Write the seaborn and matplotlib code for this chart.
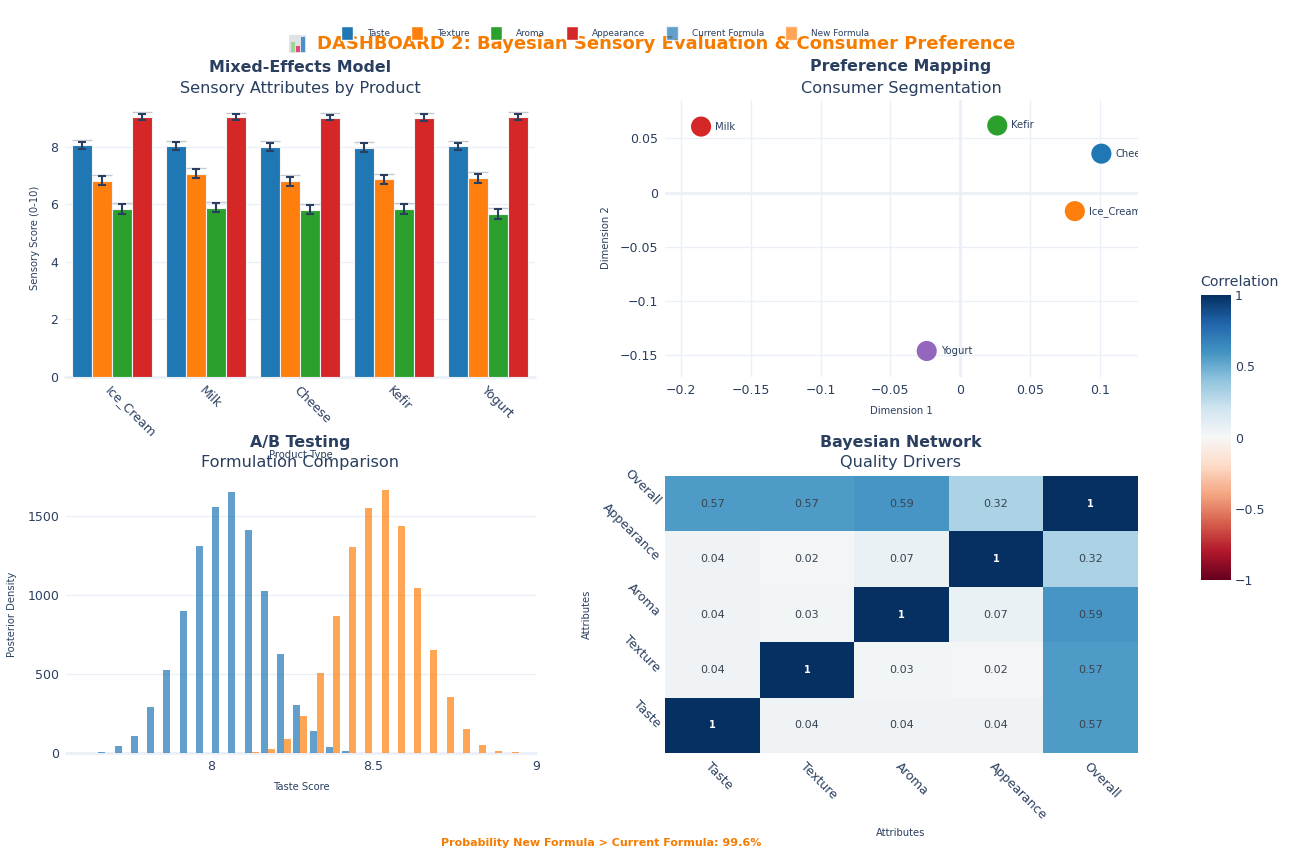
import numpy as np
import pandas as pd
import seaborn as sns
import matplotlib
matplotlib.use('Agg')
import matplotlib.pyplot as plt
from matplotlib.patches import Patch, Rectangle

# sensory scores
products = ['Ice_Cream', 'Milk', 'Cheese', 'Kefir', 'Yogurt']
attributes = ['Taste', 'Texture', 'Aroma', 'Appearance']
taste = [8.06, 8.02, 8.00, 7.97, 8.02]
texture = [6.83, 7.07, 6.80, 6.87, 6.91]
aroma = [5.84, 5.88, 5.82, 5.84, 5.67]
appearance = [9.05, 9.03, 9.02, 9.01, 9.05]
taste_err = [0.12, 0.14, 0.14, 0.15, 0.13]
texture_err = [0.15, 0.15, 0.16, 0.15, 0.15]
aroma_err = [0.16, 0.16, 0.15, 0.16, 0.16]
appearance_err = [0.10, 0.10, 0.10, 0.12, 0.10]

# preference map
segment_names = ['Milk', 'Kefir', 'Cheese', 'Ice_Cream', 'Yogurt']
dim1 = [-0.1855, 0.0265, 0.101, 0.082, -0.024]
dim2 = [0.061, 0.062, 0.036, -0.017, -0.146]

# posterior histogram counts per bin
bin_centers = [7.575, 7.625, 7.675, 7.725, 7.775, 7.825, 7.875, 7.925, 7.975, 8.025,
               8.075, 8.125, 8.175, 8.225, 8.275, 8.325, 8.375, 8.425, 8.475, 8.525,
               8.575, 8.625, 8.675, 8.725, 8.775, 8.825, 8.875, 8.925, 8.975]
current_counts = [1, 2, 5, 44, 105, 293, 523, 901, 1310, 1557,
                  1654, 1414, 1028, 629, 304, 141, 36, 13, 3, 1,
                  0, 0, 0, 0, 0, 0, 0, 0, 0]
new_counts = [0, 0, 0, 0, 0, 0, 0, 0, 0, 1,
              3, 8, 27, 89, 234, 506, 869, 1304, 1553, 1667,
              1437, 1047, 652, 357, 154, 51, 13, 4, 1]

# correlation matrix
corr_labels = ['Taste', 'Texture', 'Aroma', 'Appearance', 'Overall']
corr_taste = [1, 0.04, 0.04, 0.04, 0.57]
corr_texture = [0.04, 1, 0.03, 0.02, 0.57]
corr_aroma = [0.04, 0.03, 1, 0.07, 0.59]
corr_appearance = [0.04, 0.02, 0.07, 1, 0.32]
corr_overall = [0.57, 0.57, 0.59, 0.32, 1]

W, H = 1300, 850
TEXT = '#2a3f5f'
GRID = '#ebf0f8'
ORANGE = '#f57c00'
attr_colors = ['#1f77b4', '#ff7f0e', '#2ca02c', '#d62728']
segment_colors = ['#d62728', '#2ca02c', '#1f77b4', '#ff7f0e', '#9467bd']

sns.set_theme(style='white')
plt.rcParams['font.family'] = ['DejaVu Sans']
plt.rcParams['text.color'] = TEXT
plt.rcParams['xtick.color'] = TEXT
plt.rcParams['ytick.color'] = TEXT

fig = plt.figure(figsize=(W / 100, H / 100), dpi=100)


def px_axes(left, top, right, bottom):
    return fig.add_axes([left / W, 1 - bottom / H, (right - left) / W, (bottom - top) / H])


def px_text(x, y, s, **kw):
    kw.setdefault('ha', 'center')
    kw.setdefault('va', 'center')
    return fig.text(x / W, 1 - y / H, s, **kw)


def style_ax(ax):
    sns.despine(ax=ax, left=True, bottom=True)
    ax.tick_params(length=0, labelsize=9, pad=5)
    ax.set_axisbelow(True)
    ax.set_xlabel('')
    ax.set_ylabel('')


def titles(x, y, bold, sub):
    px_text(x, y, bold, fontsize=11.4, fontweight='bold')
    px_text(x, y + 21, sub, fontsize=11.6)


#%%
# panel 1: bars with error bars
ax1 = px_axes(65, 100, 535, 377)
df_sensory = pd.DataFrame({'product': products * 4,
                           'attribute': np.repeat(attributes, 5),
                           'score': taste + texture + aroma + appearance})
sns.barplot(data=df_sensory, x='product', y='score', hue='attribute', order=products,
            hue_order=attributes, palette=attr_colors, width=0.85, errorbar=None,
            saturation=1, edgecolor='#f4f4f4', linewidth=0.8, legend=False, ax=ax1)
for container, errs in zip(ax1.containers, [taste_err, texture_err, aroma_err, appearance_err]):
    xs = [b.get_x() + b.get_width() / 2 for b in container]
    ys = [b.get_height() for b in container]
    ax1.errorbar(xs, ys, yerr=errs, fmt='none', ecolor=TEXT, elinewidth=1.5,
                 capsize=3, capthick=1.5, zorder=5)
    ax1.hlines(np.array(ys) + np.array(errs) + 0.05,
               [b.get_x() for b in container],
               [b.get_x() + b.get_width() for b in container],
               color='#c4c9d0', lw=1, zorder=4)
ax1.set_xlim(-0.5, 4.5)
ax1.set_ylim(0, 9.63)
ax1.set_yticks([0, 2, 4, 6, 8])
ax1.grid(axis='y', color=GRID, lw=1)
ax1.axhline(0, color=GRID, lw=2, clip_on=False, zorder=0)
style_ax(ax1)
ax1.tick_params(axis='x', labelrotation=-45)
for lab in ax1.get_xticklabels():
    lab.set_ha('left')
    lab.set_rotation_mode('anchor')
titles(300, 67, 'Mixed-Effects Model', 'Sensory Attributes by Product')
px_text(301, 455, 'Product Type', fontsize=7.2)
px_text(35, 238, 'Sensory Score (0-10)', fontsize=7.2, rotation=90)

#%%
# panel 2: preference map
ax2 = px_axes(665, 100, 1138, 377)
sns.scatterplot(x=dim1, y=dim2, hue=segment_names, palette=segment_colors, s=210,
                linewidth=0, legend=False, zorder=3, ax=ax2)
for name, px, py in zip(segment_names, dim1, dim2):
    ax2.annotate(name, (px, py), xytext=(10, 0), textcoords='offset points', va='center',
                 fontsize=7.2, color=TEXT, clip_on=True, annotation_clip=True)
ax2.set_xlim(-0.2113, 0.1272)
ax2.set_ylim(-0.17, 0.0855)
ax2.set_xticks([-0.2, -0.15, -0.1, -0.05, 0, 0.05, 0.1])
ax2.set_xticklabels(['\u22120.2', '\u22120.15', '\u22120.1', '\u22120.05', '0', '0.05', '0.1'])
ax2.set_yticks([-0.15, -0.1, -0.05, 0, 0.05])
ax2.set_yticklabels(['\u22120.15', '\u22120.1', '\u22120.05', '0', '0.05'])
ax2.grid(color=GRID, lw=1)
ax2.axhline(0, color=GRID, lw=2, zorder=1)
ax2.axvline(0, color=GRID, lw=2, zorder=1)
style_ax(ax2)
titles(901, 67, 'Preference Mapping', 'Consumer Segmentation')
px_text(901, 411, 'Dimension 1', fontsize=7.2)
px_text(606, 238, 'Dimension 2', fontsize=7.2, rotation=90)

#%%
# panel 3: A/B posterior histogram
ax3 = px_axes(66, 476, 536, 753)
df_ab = pd.DataFrame({'score': bin_centers * 2,
                      'count': current_counts + new_counts,
                      'formula': ['Current Formula'] * len(bin_centers) + ['New Formula'] * len(bin_centers)})
sns.histplot(data=df_ab, x='score', weights='count', hue='formula',
             hue_order=['Current Formula', 'New Formula'], binwidth=0.05, binrange=(7.55, 9.0),
             multiple='dodge', shrink=0.85, palette=['#1f77b4', '#ff7f0e'], alpha=0.7,
             linewidth=0, legend=False, ax=ax3)
ax3.set_xlim(7.554, 9.0)
ax3.set_ylim(0, 1753)
ax3.set_xticks([8, 8.5, 9])
ax3.set_xticklabels(['8', '8.5', '9'])
ax3.set_yticks([0, 500, 1000, 1500])
ax3.grid(axis='y', color=GRID, lw=1)
ax3.axhline(0, color=GRID, lw=2, clip_on=False, zorder=0)
style_ax(ax3)
titles(300, 442, 'A/B Testing', 'Formulation Comparison')
px_text(301, 787, 'Taste Score', fontsize=7.2)
px_text(12, 614, 'Posterior Density', fontsize=7.2, rotation=90)

#%%
# panel 4: correlation heatmap
ax4 = px_axes(665, 476, 1138, 753)
cax = px_axes(1201, 295, 1231, 580)
df_corr = pd.DataFrame([corr_taste, corr_texture, corr_aroma, corr_appearance, corr_overall],
                       index=corr_labels, columns=corr_labels)
sns.heatmap(df_corr, cmap='RdBu', vmin=-1, vmax=1, annot=True, fmt='g',
            annot_kws={'fontsize': 8}, cbar_ax=cax, ax=ax4)
ax4.invert_yaxis()
for t in ax4.texts:
    if t.get_text() == '1':
        t.set_color('white')
        t.set_fontweight('bold')
        t.set_fontsize(7)
    else:
        t.set_color('#38434f')
style_ax(ax4)
ax4.set_xticklabels(corr_labels, rotation=-45, ha='left', rotation_mode='anchor')
ax4.set_yticklabels(corr_labels, rotation=-45, ha='right', rotation_mode='anchor')
titles(901, 442, 'Bayesian Network', 'Quality Drivers')
px_text(901, 833, 'Attributes', fontsize=7.2)
px_text(587, 614, 'Attributes', fontsize=7.2, rotation=90)

cax.set_yticks([-1, -0.5, 0, 0.5, 1])
cax.set_yticklabels(['\u22121', '\u22120.5', '0', '0.5', '1'])
cax.tick_params(length=0, labelsize=9, pad=3)
px_text(1200, 282, 'Correlation', fontsize=10.2, ha='left')

#%%
# shared legend, main title and footer
handles = [Patch(facecolor=c, label=a) for c, a in zip(attr_colors, attributes)]
handles += [Patch(facecolor='#1f77b4', alpha=0.7, label='Current Formula'),
            Patch(facecolor='#ff7f0e', alpha=0.7, label='New Formula')]
fig.legend(handles=handles, loc='center', bbox_to_anchor=(605 / W, 1 - 33 / H), ncol=6,
           frameon=False, fontsize=6.4, handlelength=1.35, handleheight=1.9, handletextpad=1.6,
           columnspacing=2.3, borderpad=0, labelcolor=TEXT)

px_text(317, 44, 'DASHBOARD 2: Bayesian Sensory Evaluation & Consumer Preference',
        fontsize=13, fontweight='bold', color=ORANGE, ha='left')
px_text(601, 843, 'Probability New Formula > Current Formula: 99.6%',
        fontsize=8, fontweight='bold', color=ORANGE)

# chart icon beside the title
for left, top, w, h, col in [(289, 35, 17, 18, '#dfe3e8'), (291, 42, 4, 10, '#9bd88f'),
                             (296, 46, 4, 6, '#e8447e'), (301, 37, 4, 15, '#4a90c8')]:
    fig.add_artist(Rectangle((left / W, 1 - (top + h) / H), w / W, h / H,
                             transform=fig.transFigure, facecolor=col, edgecolor='none'))

plt.savefig('out.png', dpi=100)
